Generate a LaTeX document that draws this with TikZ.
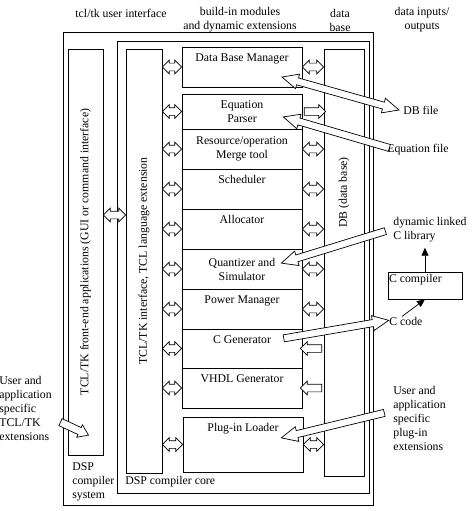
\documentclass[tikz,border=0pt]{standalone}
\usepackage{fontspec}
\setmainfont{Liberation Serif}
\usetikzlibrary{shapes.arrows, arrows.meta, positioning, calc}

% hollow block arrow between two points
\newcommand{\hollowarrow}[3][hollow]{%
  \path let \p1=($(#3)-(#2)$), \n1={atan2(\y1,\x1)}, \n2={veclen(\x1,\y1)} in
    node[#1, minimum height=\n2, rotate=\n1] at ($(#2)!0.5!(#3)$) {};
}

\begin{document}
\begin{tikzpicture}[x=1pt, y=-1pt, line width=0.7pt,
    font=\fontsize{11.8pt}{14pt}\selectfont,
    frame/.style={draw, inner sep=0pt},
    module/.style={draw, minimum width=120pt, minimum height=40pt, inner sep=0pt, align=center},
    hollow/.style={single arrow, draw, fill=white, inner sep=3.5pt, single arrow head extend=3pt},
    twoway/.style={double arrow, draw, fill=white, inner sep=3.5pt, double arrow head extend=3pt},
    longarrow/.style={inner ysep=3.2pt, single arrow head extend=4pt, single arrow tip angle=50},
    longtwoway/.style={inner ysep=3.2pt, double arrow head extend=4pt, double arrow tip angle=50},
    link/.style={-{Triangle[length=8pt,width=7pt]}},
    note/.style={anchor=west, align=left, inner xsep=4pt, inner ysep=0pt}
]
\useasboundingbox (0,0) rectangle (474,511);

% Column headings
\node (uihead) at (121,13) {tcl/tk user interface};
\node[align=center] (modhead) at (240,20) {build-in modules\\and dynamic extensions};
\node[align=center] (dbhead) at (340,20) {data\\base};
\node[align=center] (iohead) at (422,20) {data inputs/\\outputs};

% Frames
\node[frame, minimum width=310pt, minimum height=473pt] (system) at (218,268.5) {};
\node[frame, minimum width=252pt, minimum height=452pt] (core) at (243,267) {};
\node[frame, minimum width=35pt, minimum height=406pt] (front) at (85.5,252) {};
\node[frame, minimum width=36pt, minimum height=424pt] (tclif) at (144,261) {};
\node[frame, minimum width=40pt, minimum height=427pt] (db) at (344,262.5) {};

\node[rotate=90] at (front) {TCL/TK front-end applications (GUI or command interface)};
\node[rotate=90] at (tclif) {TCL/TK interface, TCL language extension};
\node[rotate=90] at ($(db)+(0,-70)$) {DB (data base)};

\node[anchor=west, align=left, inner sep=0pt] (syslabel) at (72,482) {DSP\\compiler\\system};
\node[anchor=west, inner sep=0pt] (corelabel) at (125,482) {DSP compiler core};

% Modules
\node[module] (dbm) at (242,67) {Data Base Manager\\\strut};
\node[module, minimum height=35pt] (parser) at (242,111.5) {Equation\\Parser};
\node[module] (resource) at (242,149) {Resource/operation\\Merge tool};
\node[module] (scheduler) at (242,189) {Scheduler\\\strut};
\node[module] (allocator) at (242,229) {Allocator\\\strut};
\node[module] (quantizer) at (242,269) {Quantizer and\\Simulator};
\node[module] (power) at (242,309) {Power Manager\\\strut};
\node[module, minimum height=39pt] (cgen) at (242,348.5) {C Generator\\\strut};
\node[module] (vhdl) at (242,388) {VHDL Generator\\\strut};
\node[module, minimum height=55pt, label={[anchor=north, inner sep=0pt, yshift=-6pt]north:Plug-in Loader}] (plugin) at (243,444.5) {};

% Inputs / outputs
\node[note] (dbfile) at (399,110) {DB file};
\node[note] (eqfile) at (383,150) {Equation file};
\node[note] (dynlib) at (389,230) {dynamic linked\\C library};
\node[draw, minimum width=74pt, minimum height=27pt, inner sep=0pt,
      label={[anchor=north west, inner sep=1pt, yshift=-1pt]north west:C compiler}] (ccomp) at (425,285.5) {};
\node[note] (ccode) at (385,321) {C code};
\node[note] (plugext) at (389,418) {User and\\application\\specific\\plug-in\\extensions};
\node[anchor=west, align=left, inner sep=0pt] (tclext) at (-1,408) {User and\\application\\specific\\TCL/TK\\extensions};

\draw[link, shorten >=5pt] (ccomp.north) -- (ccomp.north |- dynlib.south);
\draw[link] ([xshift=-4pt]ccode.north) -- (ccomp.south);

% Short arrows
\coordinate (frontport) at ($(front.east)+(0,-37)$);
\hollowarrow[twoway]{frontport}{tclif.west |- frontport}
\foreach \m in {dbm,parser,resource,scheduler,allocator,quantizer,power,cgen,vhdl,plugin}
  \hollowarrow[twoway]{tclif.east |- \m.west}{\m.west};
\foreach \m in {dbm,resource,scheduler,allocator,quantizer,power,plugin}
  \hollowarrow[twoway]{\m.east}{db.west |- \m.east};
\hollowarrow{parser.east}{db.west |- parser.east}
\hollowarrow{db.west |- cgen.east}{cgen.east}
\hollowarrow{db.west |- vhdl.east}{vhdl.east}

% Long arrows
\coordinate (dbmport) at (282,77);
\coordinate (eqtail) at (393,149);
\coordinate (parserport) at (287,118);
\coordinate (quantport) at (285,262);
\coordinate (cgenport) at (280,339);
\coordinate (plugtail) at (388,412);
\coordinate (pluginport) at (285,437);
\coordinate (tcltail) at (58,421);
\coordinate (frontin) at (86,434);
\hollowarrow[twoway, longtwoway]{dbmport}{dbfile.west}
\hollowarrow[hollow, longarrow]{eqtail}{parserport}
\hollowarrow[hollow, longarrow]{dynlib.west}{quantport}
\hollowarrow[hollow, longarrow]{cgenport}{ccode.west}
\hollowarrow[hollow, longarrow]{plugtail}{pluginport}
\hollowarrow[hollow, single arrow tip angle=70]{tcltail}{frontin}

\end{tikzpicture}
\end{document}
